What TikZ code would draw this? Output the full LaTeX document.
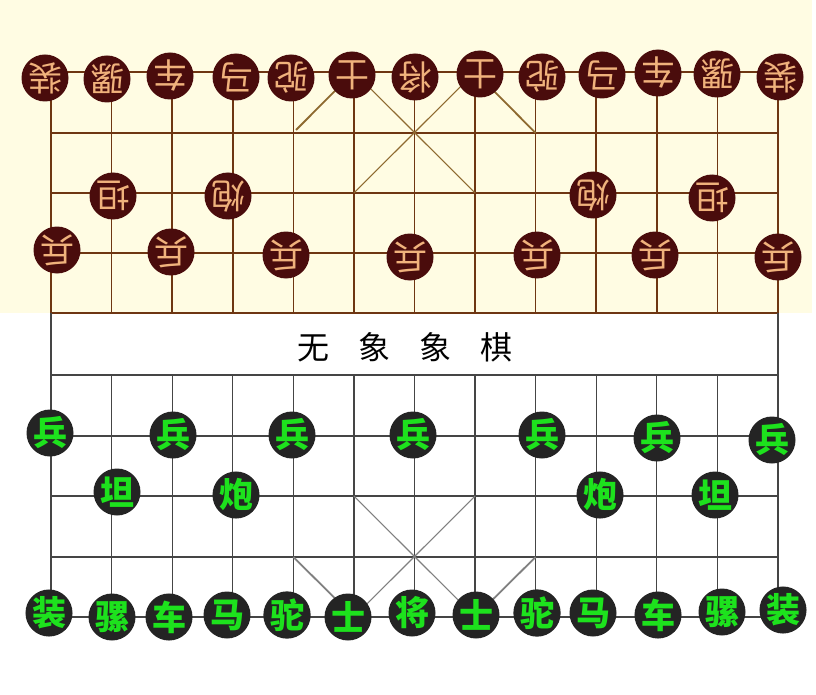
\documentclass[tikz,border=0pt]{standalone}
\usepackage{fontspec}
\newfontfamily\cjk{Noto Sans CJK SC}
\usetikzlibrary{positioning}
\definecolor{boardcream}{HTML}{FFFCE3}
\definecolor{topline}{HTML}{6E3612}
\definecolor{palaceline}{HTML}{8E6A30}
\definecolor{toppiece}{HTML}{4A0C0C}
\definecolor{toptext}{HTML}{F0B27C}
\definecolor{botline}{HTML}{454545}
\definecolor{botpalace}{HTML}{808080}
\definecolor{botpiece}{HTML}{242424}
\definecolor{bottext}{HTML}{1DE21D}

\begin{document}
\begin{tikzpicture}[x=1pt,y=-1pt,
    topman/.style={circle,fill=toppiece,minimum size=47pt,inner sep=0pt,text=toptext,font=\cjk\fontsize{34pt}{34pt}\selectfont,rotate=180},
    botman/.style={circle,fill=botpiece,minimum size=47pt,inner sep=0pt,text=bottext,font=\cjk\bfseries\fontsize{34pt}{34pt}\selectfont}]

            % Vẽ nền
            \useasboundingbox (0,0) rectangle (816,695);
            \fill[white] (0,0) rectangle (816,695);
            \fill[boardcream] (0,0) rectangle (812,313);

            % Vẽ lưới bàn cờ trên
            \foreach \i in {0,...,12}
                \draw[topline,line width=1.6pt] ({51+60.58*\i},72) -- ({51+60.58*\i},313);
            \foreach \y in {72,133,193,253,313}
                \draw[topline,line width=1.6pt] (51,\y) -- (778,\y);

            % Cung trên
            \draw[palaceline,line width=1.1pt] (353.9,72) -- (475.1,193) (475.1,72) -- (353.9,193);
            \draw[palaceline,line width=1.8pt] (296,130) -- (353.9,72) (475.1,72) -- (535.6,133);

            % Vẽ lưới bàn cờ dưới
            \foreach \i in {0,...,12}
                \draw[botline,line width=1.3pt] ({51+60.58*\i},375) -- ({51+60.58*\i},617);
            \foreach \y in {375,436,496,557,617}
                \draw[botline,line width=1.3pt] (51,\y) -- (778,\y);
            \draw[botline,line width=1.3pt] (51,313) -- (51,375) (778,313) -- (778,375); % Sông

            % Cung dưới
            \draw[botpalace,line width=1.1pt] (353.9,496) -- (475.1,617) (475.1,496) -- (353.9,617);
            \draw[botpalace,line width=1.8pt] (293.3,557) -- (353.9,617) (535.6,557) -- (475.1,617);

            % Chữ giữa sông
            \node[font=\cjk\fontsize{32pt}{32pt}\selectfont] (title) at (405,347) {无\hspace{29pt}象\hspace{29pt}象\hspace{29pt}棋};

            % Quân trên
            \foreach \x/\y/\t [count=\n] in {45/78/装,107/79/骡,170/76/车,236/77/马,291/78/驼,352/75/士,415/77/将,480/74/士,542/77/驼,602/75/马,658/73/车,717/74/骡,780/77/装}
                \node[topman] (ta\n) at (\x,\y) {\t};
            \foreach \x/\y/\t [count=\n] in {113/196/坦,228/196/炮,593/195/炮,712/198/坦}
                \node[topman] (tb\n) at (\x,\y) {\t};
            \foreach \x/\y [count=\n] in {57/250,171/252,286/255,410/257,537/255,655/255,778/257}
                \node[topman] (tc\n) at (\x,\y) {兵};

            % Quân dưới
            \foreach \x/\y [count=\n] in {50/433,173/435,292/435,413/435,542/435,657/438,772/440}
                \node[botman] (bc\n) at (\x,\y) {兵};
            \foreach \x/\y/\t [count=\n] in {117/492/坦,236/495/炮,600/495/炮,715/495/坦}
                \node[botman] (bb\n) at (\x,\y) {\t};
            \foreach \x/\y/\t [count=\n] in {49/613/装,112/617/骡,169/617/车,227/615/马,287/615/驼,348/617/士,412/613/将,476/615/士,537/613/驼,593/613/马,658/615/车,722/612/骡,783/610/装}
                \node[botman] (ba\n) at (\x,\y) {\t};

\end{tikzpicture}
\end{document}
